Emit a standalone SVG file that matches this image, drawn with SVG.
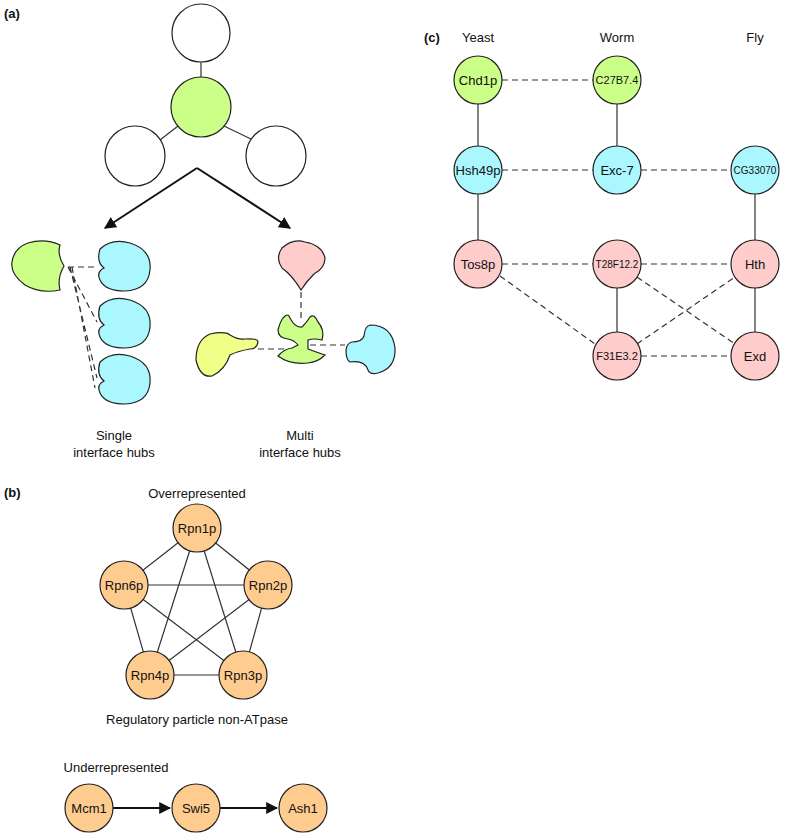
<svg xmlns="http://www.w3.org/2000/svg" width="785" height="840" viewBox="0 0 785 840">
<style>
text{font-family:"Liberation Sans",Arial,sans-serif;fill:#111}
.c{stroke:#222;stroke-width:1.2}
.l{stroke:#333;stroke-width:1.2;fill:none}
.a{stroke:#111;stroke-width:2;fill:none}
.d{stroke:#333;stroke-width:1.2;stroke-dasharray:6,4;fill:none}
.n{font-size:13px;text-anchor:middle}
.s{font-size:11px;text-anchor:middle}
.h{font-size:13px;font-weight:bold}
.g{fill:#ccff88}.b{fill:#aaf7ff}.p{fill:#ffcccc}.o{fill:#ffcc8f}.y{fill:#f0ff88}.w{fill:#fff}
</style>
<defs><marker id="ar" viewBox="0 0 10 10" refX="9" refY="5" markerWidth="6" markerHeight="6" orient="auto"><path d="M0,0L10,5L0,10z" fill="#111"/></marker></defs>
<text class="h" x="4" y="18">(a)</text>
<text class="h" x="4" y="497">(b)</text>
<text class="h" x="424" y="42">(c)</text>
<g id="connectors">
<path class="l" d="M201,62V77M178,126L160,140M224,126L253,140"/>
<path class="a" d="M197,168L105,228" marker-end="url(#ar)"/>
<path class="a" d="M197,168L290,228" marker-end="url(#ar)"/>
<path class="d" d="M68,267H97M68,267L97,322M70,267L97,378M72,267L95,388"/>
<path class="d" d="M301,292V318M258,349H290M310,345H345"/>
<path class="l" d="M197,528L124,585L150,675L243,675L268,585Z M197,528L150,675M197,528L243,675M124,585L268,585M124,585L243,675M268,585L150,675"/>
<path class="a" d="M113,808H170" marker-end="url(#ar)"/>
<path class="a" d="M220,808H277" marker-end="url(#ar)"/>
<path class="l" d="M478,104V146M478,194V240M617,104V146M755,194V240M617,288V332M755,288V332"/>
<path class="d" d="M502,80H593M502,170H593M641,170H731M502,264H593M641,264H731M641,356H731M500,276L595,344M637,277L735,344M637,344L735,277"/>
</g>
<g id="tree">
<circle class="c w" cx="201" cy="33" r="29"/>
<circle class="c g" cx="201" cy="107" r="30"/>
<circle class="c w" cx="135" cy="156" r="30"/>
<circle class="c w" cx="276" cy="156" r="30"/>
</g>
<g id="single">
<path class="c g" d="M60,245Q57,255 64,266Q57,278 60,290Q40,294 25,285Q10,274 12,262Q14,248 28,243Q45,238 60,245Z"/>
<g id="b1"><path class="c b" d="M100,249Q112,238 130,243Q152,250 150,270Q148,290 125,291Q105,291 100,280Q96,272 104,268Q96,262 100,249Z"/></g>
<g id="b2"><path class="c b" d="M100,306Q112,295 130,300Q152,307 150,327Q148,347 125,348Q105,348 100,337Q96,329 104,325Q96,319 100,306Z"/></g>
<g id="b3"><path class="c b" d="M100,362Q112,351 130,356Q152,363 150,383Q148,403 125,404Q105,404 100,393Q96,385 104,381Q96,375 100,362Z"/></g>
<text class="n" x="114" y="440">Single</text>
<text class="n" x="114" y="457">interface hubs</text>
</g>
<g id="multi">
<path class="c p" d="M301,290Q292,275 282,268Q275,258 282,248Q293,238 305,242Q322,245 325,258Q325,268 314,274Q306,282 301,290Z"/>
<path class="c g" d="M283,318Q288,312 290,318Q295,328 302,327Q307,322 310,317Q314,313 318,322Q325,330 322,340Q314,338 308,340L308,349Q316,352 325,355Q318,362 308,363Q290,365 278,356Q284,349 292,348L298,345Q294,340 288,339Q278,338 278,330Q280,322 283,318Z"/>
<path class="c y" d="M258,342Q257,349 250,349Q238,351 230,355Q225,370 212,376Q200,378 196,360Q196,340 210,334Q225,331 230,335Q238,340 245,339Q258,338 258,342Z"/>
<path class="c b" d="M370,325Q392,325 395,348Q396,368 378,373Q370,375 368,370Q365,360 350,362Q346,360 346,350Q347,343 352,342Q362,342 364,336Q365,326 370,325Z"/>
<text class="n" x="300" y="440">Multi</text>
<text class="n" x="300" y="457">interface hubs</text>
</g>
<g id="b">
<text class="n" x="197" y="498">Overrepresented</text>
<g id="rpn1"><circle class="c o" cx="197" cy="528" r="24"/><text class="n" x="197" y="533">Rpn1p</text></g>
<g id="rpn6"><circle class="c o" cx="124" cy="585" r="24"/><text class="n" x="124" y="590">Rpn6p</text></g>
<g id="rpn2"><circle class="c o" cx="268" cy="585" r="24"/><text class="n" x="268" y="590">Rpn2p</text></g>
<g id="rpn4"><circle class="c o" cx="150" cy="675" r="24"/><text class="n" x="150" y="680">Rpn4p</text></g>
<g id="rpn3"><circle class="c o" cx="243" cy="675" r="24"/><text class="n" x="243" y="680">Rpn3p</text></g>
<text class="n" x="197" y="724">Regulatory particle non-ATpase</text>
<text class="n" x="116" y="772">Underrepresented</text>
<g id="mcm1"><circle class="c o" cx="89" cy="808" r="24"/><text class="n" x="89" y="813">Mcm1</text></g>
<g id="swi5"><circle class="c o" cx="196" cy="808" r="24"/><text class="n" x="196" y="813">Swi5</text></g>
<g id="ash1"><circle class="c o" cx="303" cy="808" r="24"/><text class="n" x="303" y="813">Ash1</text></g>
</g>
<g id="c">
<text class="n" x="478" y="42">Yeast</text><text class="n" x="617" y="42">Worm</text><text class="n" x="755" y="42">Fly</text>
<g id="chd1p"><circle class="c g" cx="478" cy="80" r="24"/><text class="n" x="478" y="85">Chd1p</text></g>
<g id="c27"><circle class="c g" cx="617" cy="80" r="24"/><text class="s" x="617" y="84">C27B7.4</text></g>
<g id="hsh"><circle class="c b" cx="478" cy="170" r="24"/><text class="n" x="478" y="175">Hsh49p</text></g>
<g id="exc"><circle class="c b" cx="617" cy="170" r="24"/><text class="n" x="617" y="175">Exc-7</text></g>
<g id="cg"><circle class="c b" cx="755" cy="170" r="24"/><text class="s" x="755" y="174" style="font-size:10px">CG33070</text></g>
<g id="tos"><circle class="c p" cx="478" cy="264" r="24"/><text class="n" x="478" y="269">Tos8p</text></g>
<g id="t28"><circle class="c p" cx="617" cy="264" r="24"/><text class="s" x="617" y="268" style="font-size:10px">T28F12.2</text></g>
<g id="hth"><circle class="c p" cx="755" cy="264" r="24"/><text class="n" x="755" y="269">Hth</text></g>
<g id="f31"><circle class="c p" cx="617" cy="356" r="24"/><text class="s" x="617" y="360">F31E3.2</text></g>
<g id="exd"><circle class="c p" cx="755" cy="356" r="24"/><text class="n" x="755" y="361">Exd</text></g>
</g>
</svg>
